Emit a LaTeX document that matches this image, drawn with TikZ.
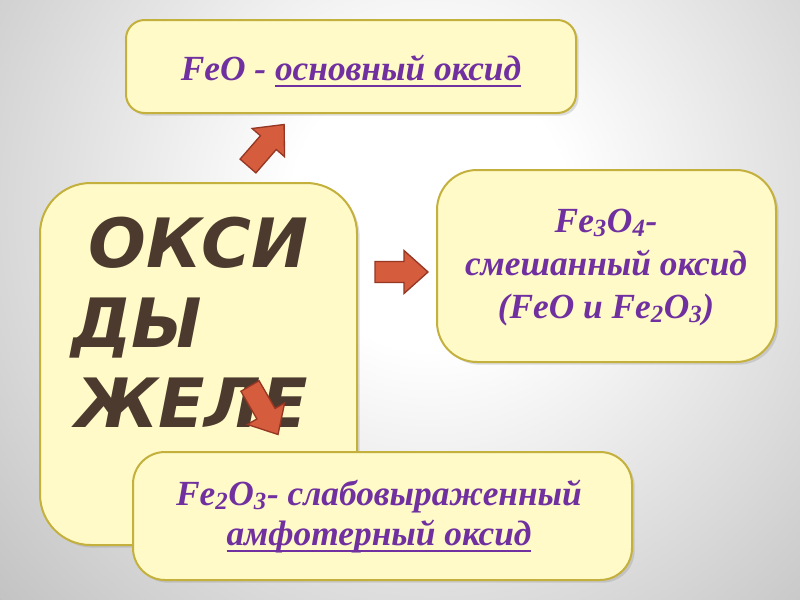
\documentclass[tikz,border=0pt]{standalone}
\usepackage{fontspec}
\setmainfont{Liberation Serif}
\newfontfamily\bigfont{DejaVu Sans}
\usetikzlibrary{shadows}
\definecolor{boxfill}{RGB}{255,250,200}
\definecolor{boxline}{RGB}{196,176,60}
\definecolor{txt}{RGB}{112,48,160}
\definecolor{bigtxt}{RGB}{75,58,45}
\definecolor{arrfill}{RGB}{214,92,62}
\definecolor{arrline}{RGB}{150,55,35}
\definecolor{bgin}{RGB}{255,255,255}
\definecolor{bgout}{RGB}{148,148,148}
\pgfdeclareradialshading{bgshade}{\pgfpoint{0bp}{0bp}}{color(0bp)=(bgin); color(6bp)=(bgin); color(40bp)=(bgout); color(50bp)=(bgout)}
\newcommand\ulin[1]{\setbox0\hbox{#1}\rlap{\rule[-5pt]{\wd0}{1.4pt}}\box0}
\tikzset{
  obox/.style={draw=boxline, line width=1.5pt, fill=boxfill, rounded corners=#1,
    drop shadow={opacity=0.25, shadow xshift=2pt, shadow yshift=-2pt}},
  lbl/.style={text=txt, inner sep=0pt, font=\fontsize{26.5}{30}\selectfont\bfseries\itshape},
  biglbl/.style={text=bigtxt, inner sep=0pt, anchor=base west, font=\bigfont\fontsize{51}{60}\selectfont\bfseries\itshape},
  barrow/.style={draw=arrline, line width=1pt, fill=arrfill, line join=miter}
}
\newcommand\blockarrow[3]{%
  \draw[barrow, shift={#1}, rotate=#2] (0,-10.5) -- (#3-24,-10.5) -- (#3-24,-21.5) -- (#3,0) -- (#3-24,21.5) -- (#3-24,10.5) -- (0,10.5) -- cycle;}
\begin{document}
\begin{tikzpicture}[x=0.75pt, y=-0.75pt]
\useasboundingbox (0,0) rectangle (800,600);
\begin{scope}
  \clip (0,0) rectangle (800,600);
  \fill[bgout] (0,0) rectangle (800,600);
  \shade[shading=bgshade] (430,210) circle (580);
\end{scope}

% big left box
\draw[obox=38] (40,183) rectangle (357,545);
\node[biglbl] (w1) at (88,267) {ОКСИ};
\node[biglbl] (w2) at (71,347) {ДЫ};
\node[biglbl] (w3) at (75,427) {ЖЕЛЕ};

% top box
\draw[obox=14] (126,20) rectangle (576,113);
\node[lbl, anchor=base] (t1) at (351,80) {FeO - \ulin{основный оксид}};

% right box
\draw[obox=30] (437,170) rectangle (776,362);
\node[lbl, anchor=base] (r1) at (606,232) {Fe\textsubscript{3}O\textsubscript{4}-};
\node[lbl, anchor=base] (r2) at (606,275) {смешанный оксид};
\node[lbl, anchor=base] (r3) at (606,318) {(FeO и Fe\textsubscript{2}O\textsubscript{3})};

% bottom box
\draw[obox=24] (133,452) rectangle (632,580);
\node[lbl, anchor=base] (b1) at (379,505) {Fe\textsubscript{2}O\textsubscript{3}- слабовыраженный};
\node[lbl, anchor=base] (b2) at (379,545) {\ulin{амфотерный оксид}};

% block arrows
\blockarrow{(248,166)}{49}{55}
\blockarrow{(375,272)}{0}{53}
\blockarrow{(250,386)}{-60}{56}
\end{tikzpicture}
\end{document}
